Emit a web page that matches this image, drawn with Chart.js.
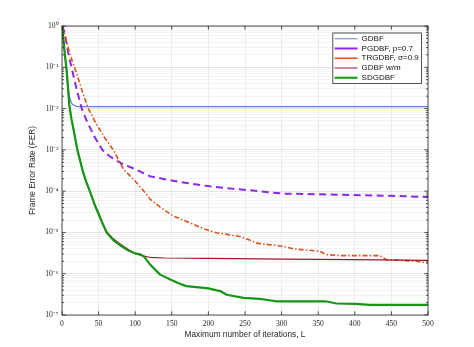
<!DOCTYPE html>
<html><head><meta charset="utf-8">
<script src="https://cdn.jsdelivr.net/npm/chart.js@4.4.1/dist/chart.umd.min.js"></script>
<style>html,body{margin:0;padding:0;background:#fff}canvas{display:block}</style>
</head><body>
<canvas id="c" width="474" height="347"></canvas>
<script>
// ---- data ----
const seriesNames = ['GDBF', 'PGDBF, p=0.7', 'TRGDBF, σ=0.9', 'GDBF w/m', 'SDGDBF'];

const gdbfL   = [0, 2, 4, 6, 8, 10, 12, 14, 17, 20, 25, 500];
const gdbfFER = [1, 0.45, 0.2, 0.095, 0.04, 0.02, 0.015, 0.0128, 0.0118, 0.0113, 0.0112, 0.0112];

const pgdbfL   = [0, 3, 6, 9, 13, 17, 21, 27, 35, 45, 55, 65, 80, 100, 120, 150, 189, 220, 257, 302, 350, 393, 450, 500];
const pgdbfFER = [1, 0.75, 0.4, 0.2, 0.1, 0.05, 0.025, 0.01, 0.0045, 0.002, 0.001, 7e-4, 4.8e-4, 3.4e-4, 2.3e-4, 1.8e-4, 1.4e-4, 1.2e-4, 1.05e-4, 8.7e-5, 8.4e-5, 8.1e-5, 7.7e-5, 7.2e-5];

const trgdbfL   = [0, 4, 8, 12, 17, 22, 28, 36, 46, 58, 70, 84, 98, 110, 120, 135, 152, 175, 195, 211, 243, 257, 266, 302, 316, 352, 361, 380, 434, 443, 484, 500];
const trgdbfFER = [1, 0.6, 0.32, 0.18, 0.1, 0.055, 0.025, 0.01, 0.0045, 0.002, 0.001, 3.4e-4, 1.9e-4, 1.1e-4, 6.5e-5, 4e-5, 2.5e-5, 1.7e-5, 1.2e-5, 9.8e-6, 8e-6, 6.5e-6, 5.5e-6, 4.6e-6, 4e-6, 3.5e-6, 2.9e-6, 2.75e-6, 2.75e-6, 2.2e-6, 2.0e-6, 1.8e-6];

const gdbfwmL   = [0, 2, 4, 6, 8, 10, 13, 16, 21, 29, 33, 38, 45, 50, 55, 61, 70, 80, 90, 100, 110, 120, 140, 200, 300, 400, 500];
const gdbfwmFER = [1, 0.45, 0.2, 0.095, 0.035, 0.012, 0.0055, 0.003, 0.001, 2.8e-4, 1.7e-4, 1e-4, 4.7e-5, 2.9e-5, 1.8e-5, 1.05e-5, 7e-6, 5.2e-6, 3.9e-6, 3.1e-6, 2.7e-6, 2.5e-6, 2.4e-6, 2.35e-6, 2.25e-6, 2.2e-6, 2.1e-6];

const sdgdbfL   = [0, 2, 4, 6, 8, 10, 13, 16, 21, 29, 33, 38, 45, 50, 55, 61, 70, 80, 90, 100, 108, 112, 120, 134, 148, 160, 170, 200, 216, 225, 248, 270, 293, 360, 375, 400, 421, 500];
const sdgdbfFER = [1, 0.45, 0.2, 0.095, 0.035, 0.012, 0.0055, 0.003, 0.001, 2.8e-4, 1.7e-4, 1e-4, 4.5e-5, 2.8e-5, 1.7e-5, 1e-5, 6.5e-6, 4.8e-6, 3.7e-6, 3.1e-6, 2.9e-6, 2.6e-6, 1.7e-6, 9.5e-7, 7.2e-7, 5.8e-7, 5e-7, 4.4e-7, 3.8e-7, 3.1e-7, 2.6e-7, 2.45e-7, 2.15e-7, 2.15e-7, 1.9e-7, 1.85e-7, 1.75e-7, 1.75e-7];

const xTickValues = [0, 50, 100, 150, 200, 250, 300, 350, 400, 450, 500];
const yDecades    = [-7, -6, -5, -4, -3, -2, -1, 0];
const yTickLabels = ['10⁻⁷', '10⁻⁶', '10⁻⁵', '10⁻⁴', '10⁻³', '10⁻²', '10⁻¹', '10⁰'];
const xTitle = 'Maximum number of iterations, L';
const yTitle = 'Frame Error Rate (FER)';

// ---- helpers ----
const pts = (L, F) => L.map((x, i) => ({x: x, y: F[i]}));
const isDecade = v => Math.abs(Math.log10(v) - Math.round(Math.log10(v))) < 1e-6;

const frame = {
  id: 'frame',
  beforeDraw(chart) {
    const c = chart.ctx;
    c.save(); c.fillStyle = '#fff'; c.fillRect(0, 0, chart.width, chart.height); c.restore();
  },
  afterLayout(chart) {
    const lg = chart.legend, a = chart.chartArea;
    if (!lg || !lg.columnSizes) return;
    const pad = lg.options.labels.padding;
    const fs = lg.options.labels.font.size;
    const w = lg.columnSizes[0].width + 2 * pad + 1;
    const h = pad + lg.legendItems.length * (fs + pad);
    lg.left = a.right - 6.5 - w;
    lg.top = a.top + 7;
    lg.right = lg.left + w;
    lg.width = w;
    lg.bottom = a.bottom;
    lg.height = lg.bottom - lg.top;
    lg._box = {x: lg.left, y: lg.top, w: w, h: h};
    if (!lg._wrapped) {
      const orig = lg.draw.bind(lg);
      lg.draw = function (area) {
        const b = this._box, c = this.ctx;
        c.save();
        c.fillStyle = '#fff';
        c.fillRect(b.x, b.y, b.w, b.h);
        c.strokeStyle = '#262626';
        c.lineWidth = 0.8;
        c.strokeRect(b.x, b.y, b.w, b.h);
        c.restore();
        orig(area);
      };
      lg._wrapped = true;
    }
  },
  afterDraw(chart) {
    const {ctx, chartArea: a, scales: {x, y}} = chart;
    ctx.save();
    ctx.strokeStyle = '#262626';
    ctx.lineWidth = 0.8;
    ctx.beginPath();
    x.ticks.forEach(t => {
      const px = x.getPixelForValue(t.value);
      ctx.moveTo(px, a.bottom); ctx.lineTo(px, a.bottom - 3.7);
      ctx.moveTo(px, a.top); ctx.lineTo(px, a.top + 3.7);
    });
    y.ticks.forEach(t => {
      const py = y.getPixelForValue(t.value);
      const len = isDecade(t.value) ? 3.7 : 2;
      ctx.moveTo(a.left, py); ctx.lineTo(a.left + len, py);
      ctx.moveTo(a.right, py); ctx.lineTo(a.right - len, py);
    });
    ctx.stroke();
    ctx.strokeRect(a.left, a.top, a.right - a.left, a.bottom - a.top);
    ctx.restore();
  }
};

const sans = 'Liberation Sans, Arial, sans-serif';
const serif = 'Liberation Serif, Times New Roman, serif';

new Chart(document.getElementById('c'), {
  type: 'line',
  data: {
    datasets: [
      {label: seriesNames[0], data: pts(gdbfL, gdbfFER), borderColor: 'rgb(100,122,232)', borderWidth: 1.2, order: 5},
      {label: seriesNames[1], data: pts(pgdbfL, pgdbfFER), borderColor: 'rgb(140,40,230)', borderWidth: 2, borderDash: [7, 4.5], order: 4},
      {label: seriesNames[2], data: pts(trgdbfL, trgdbfFER), borderColor: 'rgb(217,83,25)', borderWidth: 1.6, borderDash: [5, 2.2, 1.4, 2.2], order: 3},
      {label: seriesNames[3], data: pts(gdbfwmL, gdbfwmFER), borderColor: 'rgb(162,20,47)', borderWidth: 1.2, order: 2},
      {label: seriesNames[4], data: pts(sdgdbfL, sdgdbfFER), borderColor: 'rgb(22,150,22)', borderWidth: 2.2, order: 1}
    ]
  },
  options: {
    responsive: false,
    animation: false,
    devicePixelRatio: 1,
    layout: {padding: {left: 0, right: 46, top: 26, bottom: 0}},
    elements: {point: {radius: 0}, line: {tension: 0, fill: false, borderJoinStyle: 'round'}},
    plugins: {
      tooltip: {enabled: false},
      legend: {
        position: 'chartArea',
        align: 'start',
        labels: {
          usePointStyle: true,
          pointStyle: 'line',
          pointStyleWidth: 23,
          padding: 1.75,
          color: '#111',
          font: {family: sans, size: 8},
          sort: (a, b) => a.datasetIndex - b.datasetIndex
        }
      }
    },
    scales: {
      x: {
        type: 'linear', min: 0, max: 500,
        afterBuildTicks: s => { s.ticks = xTickValues.map(v => ({value: v})); },
        afterFit: s => { s.height = 32; },
        border: {display: false},
        grid: {color: '#e6e6e6', lineWidth: 0.8, drawTicks: false},
        ticks: {autoSkip: false, maxRotation: 0, padding: 4.5, color: '#262626', font: {family: serif, size: 7.6}},
        title: {display: true, text: xTitle, color: '#262626', font: {family: sans, size: 8.3}, padding: {top: 0, bottom: 7}}
      },
      y: {
        type: 'logarithmic', min: 1e-7, max: 1,
        afterBuildTicks: s => {
          const t = [];
          yDecades.forEach(d => {
            for (let m = 1; m <= 9; m++) {
              const v = m * Math.pow(10, d);
              if (v <= 1.0000001) t.push({value: v});
            }
          });
          s.ticks = t;
        },
        afterFit: s => { s.width = 62; },
        border: {display: false},
        grid: {
          color: c => isDecade(c.tick.value) ? '#dedede' : '#f0f0f0',
          lineWidth: 0.8,
          drawTicks: false
        },
        ticks: {
          autoSkip: false, padding: 3.5, color: '#262626', font: {family: serif, size: 7.6},
          callback: v => {
            const i = yDecades.indexOf(Math.round(Math.log10(v)));
            return isDecade(v) && i >= 0 ? yTickLabels[i] : '';
          }
        },
        title: {display: true, text: yTitle, color: '#262626', font: {family: sans, size: 8.3}, padding: {top: 28, bottom: 0}}
      }
    }
  },
  plugins: [frame]
});
</script>
</body></html>
